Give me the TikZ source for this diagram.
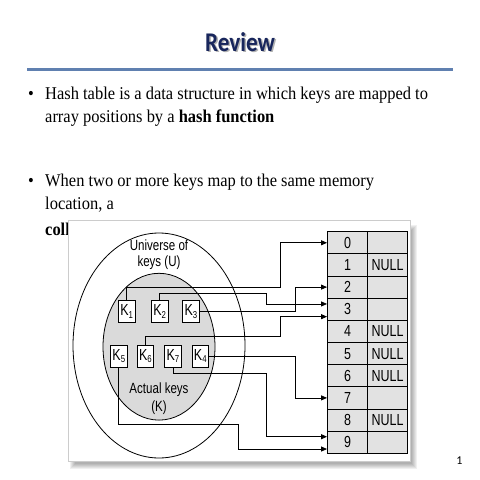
\documentclass[tikz,border=0pt]{standalone}
\usepackage{fontspec}
\setmainfont{Liberation Serif}
\newfontfamily\slidefont[FakeStretch=0.915]{Liberation Serif}
\newfontfamily\diafont[FakeStretch=0.78]{Liberation Sans}
\newfontfamily\titlefont[FakeStretch=0.86]{Carlito}
\newfontfamily\numfont{Carlito}
\usetikzlibrary{arrows.meta}
\definecolor{titleblue}{RGB}{24,38,92}
\definecolor{rulecol}{RGB}{96,128,176}
\definecolor{cellgray}{RGB}{226,226,226}
\definecolor{setgray}{RGB}{218,218,218}
\newcommand\keylabel[1]{K\raisebox{-2.8pt}{\fontsize{10}{10}\selectfont #1}}
\begin{document}
\begin{tikzpicture}[x=1pt,y=-1pt,
 slidetext/.style={anchor=base west, inner sep=0, font=\slidefont\fontsize{18}{21}\selectfont},
 keybox/.style={draw, fill=white, minimum width=16.5pt, minimum height=22pt, inner sep=0, font=\diafont\fontsize{16}{18}\selectfont, line width=0.8pt},
 cell/.style={draw, fill=cellgray, minimum width=40pt, minimum height=22.16pt, inner sep=0, font=\diafont\fontsize{16}{18}\selectfont, line width=0.9pt},
 dtext/.style={inner sep=0, font=\diafont\fontsize{14.8}{16}\selectfont},
 arr/.style={-{Triangle[length=6pt,width=5pt]}, line width=0.8pt},
 titletext/.style={inner sep=0, font=\titlefont\bfseries\fontsize{27}{30}\selectfont},
]
\useasboundingbox (0,0) rectangle (480,480);
% title
\node[titletext, text=black!30] (titleshadow) at (241.6,43.3) {Review};
\node[titletext, text=titleblue] (title) at (240,41.7) {Review};
\draw[rulecol, line width=2.5pt] (27,69.5) -- (453,69.5);
% bullet text
\node[slidetext] (b1) at (28,99) {•};
\node[slidetext] (l1) at (45,99) {Hash table is a data structure in which keys are mapped to};
\node[slidetext] (l2) at (45,122.5) {array positions by a \textbf{hash function}};
\node[slidetext] (b2) at (28,186) {•};
\node[slidetext] (l3) at (45,186) {When two or more keys map to the same memory};
\node[slidetext] (l4) at (45,209.5) {location, a};
\node[slidetext] (l5) at (45,235) {\textbf{coll}};
% picture box with shadow
\foreach \k in {0,...,5} {
  \fill[black, opacity=0.06] (70+\k,225+\k) rectangle (417-\k,469-\k);
}
\filldraw[fill=white, draw=black!20, line width=0.5pt] (68,220) rectangle (410,461);
% sets
\draw[line width=0.8pt] (159,345.5) ellipse [x radius=86pt, y radius=112.5pt];
\filldraw[fill=setgray, line width=0.8pt] (159,346.7) ellipse [x radius=56pt, y radius=73.4pt];
\node[dtext, anchor=base] (u1) at (159,250.5) {Universe of};
\node[dtext, anchor=base] (u2) at (159,266.5) {keys (U)};
\node[dtext, anchor=base] (a1) at (159,393) {Actual keys};
\node[dtext, anchor=base] (a2) at (159,411) {(K)};
% keys
\node[keybox] (k1) at (126.7,311.3) {\keylabel{1}};
\node[keybox] (k2) at (159.7,311.3) {\keylabel{2}};
\node[keybox] (k3) at (190.9,311.3) {\keylabel{3}};
\node[keybox] (k5) at (118.8,356) {\keylabel{5}};
\node[keybox] (k6) at (145.5,356) {\keylabel{6}};
\node[keybox] (k7) at (173,356) {\keylabel{7}};
\node[keybox] (k4) at (200.3,356) {\keylabel{4}};
% table
\foreach \i/\v in {0/,1/NULL,2/,3/,4/NULL,5/NULL,6/NULL,7/,8/NULL,9/} {
  \node[cell] (idx\i) at (347.5,{242.78+22.16*\i}) {\i};
  \node[cell] (val\i) at (387.5,{242.78+22.16*\i}) {\v};
}
% connectors
\draw[arr] (k1.north) |- (280,287) |- (idx0.west);
\draw[arr] (k2.north) |- (266.7,293.3) |- ([yshift=5.3pt]idx3.west);
\draw[arr] (k3.east) -- (295,311.3) |- (idx2.west);
\draw[arr] (k6.north) |- (280,336.7) |- ([yshift=-7.4pt]idx3.west);
\draw[arr] (k4.east) -- (295,356) |- (idx7.west);
\draw[arr] (k7.south) |- (266.7,373) |- ([yshift=5.5pt]idx9.west);
\draw[arr] (k5.south) |- (238,424) |- ([yshift=-6.8pt]idx9.west);
% page number
\node[inner sep=0, font=\numfont\fontsize{12}{14}\selectfont] (pg) at (459.5,461) {1};
\end{tikzpicture}
\end{document}
